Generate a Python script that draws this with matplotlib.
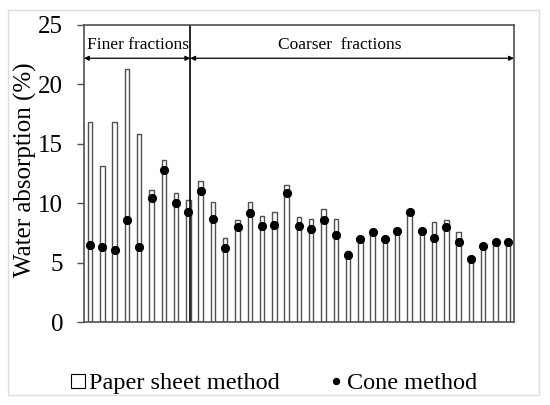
import numpy as np
import matplotlib.pyplot as plt
from matplotlib.lines import Line2D
from matplotlib.patches import Rectangle

plt.rcParams['font.family'] = ['Liberation Serif', 'DejaVu Serif']

# water absorption (%) per sample, 9 finer + 26 coarser fractions
paper_sheet = [16.8, 13.1, 16.8, 21.3, 15.8, 11.1, 13.6, 10.9, 10.3,
               11.9, 10.1, 7.1, 8.6, 10.1, 8.9, 9.3, 11.5, 8.8, 8.7,
               9.5, 8.7, 6.0, 7.1, 7.7, 7.0, 7.8, 9.4, 7.7, 8.4,
               8.6, 7.6, 5.4, 6.5, 6.8, 6.7]
cone = [6.5, 6.3, 6.1, 8.6, 6.3, 10.4, 12.8, 10.0, 9.3,
        11.0, 8.7, 6.2, 8.0, 9.2, 8.1, 8.2, 10.9, 8.1, 7.8,
        8.6, 7.3, 5.6, 7.0, 7.6, 7.0, 7.7, 9.3, 7.7, 7.1,
        8.0, 6.7, 5.3, 6.4, 6.7, 6.7]
n_finer = 9
yticks = [0, 5, 10, 15, 20, 25]

x = np.arange(len(paper_sheet))

fig = plt.figure(figsize=(5.5, 4.05), dpi=100)
ax = fig.add_axes([0.1527, 0.2049, 0.7818, 0.7334])

ax.bar(x, paper_sheet, width=0.36, color='white', edgecolor='#505050', linewidth=1.0)
ax.plot(x, cone, 'o', color='black', markersize=5.6, zorder=3)

ax.set_xlim(-0.5, len(x) - 0.5)
ax.set_ylim(0, 25)
ax.set_yticks(yticks)
ax.set_xticks([])
ax.tick_params(axis='y', direction='out', length=5, width=1, color='#505050', labelsize=18, pad=10)
for s in ax.spines.values():
    s.set_color('#505050')
    s.set_linewidth(1.2)
ax.set_ylabel('Water absorption (%)', fontsize=18)
ax.yaxis.set_label_coords(-0.11, 0.512)

# divider between finer and coarser fractions
xdiv = n_finer - 1 + 0.15
ax.axvline(xdiv, color='black', linewidth=1.2)
arr = dict(arrowstyle='<|-|>', color='black', lw=0.9, mutation_scale=7, shrinkA=0, shrinkB=0)
ax.annotate('', xy=(-0.5, 22.2), xytext=(xdiv, 22.2), arrowprops=arr)
ax.annotate('', xy=(xdiv, 22.2), xytext=(len(x) - 0.5, 22.2), arrowprops=arr)
ax.text(-0.27, 23.35, 'Finer fractions', fontsize=12.5, ha='left', va='center')
ax.text(20.3, 23.35, 'Coarser  fractions', fontsize=12.5, ha='center', va='center')

handles = [Line2D([], [], marker='s', linestyle='none', markerfacecolor='white',
                  markeredgecolor='black', markersize=9.5, markeredgewidth=0.8),
           Line2D([], [], marker='o', linestyle='none', color='black', markersize=4.3)]
fig.legend(handles, ['Paper sheet method', 'Cone method'], loc='center',
           bbox_to_anchor=(0.498, 0.054), ncol=2, frameon=False, fontsize=17.5,
           handlelength=0.6, handletextpad=0.15, columnspacing=2.05)

# light frame around the figure
fig.patches.append(Rectangle((8 / 550, 10 / 405), 531 / 550, 385 / 405, transform=fig.transFigure,
                             fill=False, edgecolor='#dddddd', linewidth=1))

fig.savefig('out.png', dpi=100)
